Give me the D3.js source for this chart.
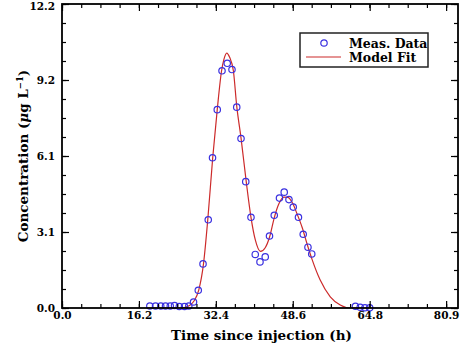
<!DOCTYPE html>
<html>
<head>
<meta charset="utf-8">
<script src="https://cdn.jsdelivr.net/npm/d3@7"></script>
<style>
  body { margin: 0; background: #fff; }
  text { font-family: 'DejaVu Serif', serif; font-weight: bold; fill: #000; }
</style>
</head>
<body>
<script>
// Measured concentrations (time in h, conc in ug/L)
const measTime = [18.5, 19.7, 20.8, 21.8, 22.8, 23.7, 24.7, 25.8, 26.7,
  27.7, 28.7, 29.7, 30.8, 31.7, 32.7, 33.7, 34.8, 35.8, 36.8, 37.7, 38.7, 39.8,
  40.7, 41.7, 42.8, 43.7, 44.7, 45.8, 46.8, 47.8, 48.7, 49.8, 50.8, 51.8, 52.6,
  61.8, 62.8, 63.8, 64.8]
const measConc = [0.08, 0.08, 0.08, 0.08, 0.08, 0.1, 0.06, 0.06, 0.08,
  0.24, 0.71, 1.77, 3.54, 6.03, 7.96, 9.52, 9.82, 9.57, 8.06, 6.8, 5.07, 3.64,
  2.15, 1.85, 2.05, 2.89, 3.72, 4.41, 4.65, 4.35, 4.05, 3.64, 2.96, 2.44, 2.17,
  0.07, 0.03, 0.01, 0.01]

// Model fit curve
const fitTime = [18, 25.1, 26.1, 27.0, 27.8, 28.8, 29.8, 30.7, 31.75, 32.7, 33.6, 34.1,
  34.7, 35.3, 36.1, 36.8, 37.7, 38.8, 39.8, 40.7, 41.8, 42.8, 43.75, 44.7,
  45.7, 46.7, 47.6, 48.6, 49.5, 50.6, 51.6, 52.7, 54.35, 56.5, 58.6, 60.7, 65]
const fitConc = [0, 0, 0.04, 0.12, 0.28, 0.72, 1.77, 3.54, 6.05, 7.97, 9.51, 9.98,
  10.23, 10.06, 9.51, 8.1, 6.83, 5.07, 3.64, 2.74, 2.27, 2.42, 2.87, 3.62,
  4.19, 4.45, 4.44, 4.19, 3.78, 3.22, 2.58, 1.93, 1.13, 0.45, 0.12, 0, 0]

const xMajor = [0, 16.2, 32.4, 48.6, 64.8, 80.9]
const xLabels = ['0.0', '16.2', '32.4', '48.6', '64.8', '80.9']
const yMajor = [0, 3.05, 6.1, 9.15, 12.2]
const yLabels = ['0.0', '3.1', '6.1', '9.2', '12.2']

const margin = { top: 4, right: 16, bottom: 46, left: 62 }
const W = 474, H = 354
const width = W - margin.left - margin.right
const height = H - margin.top - margin.bottom

const svg = d3.select('body').append('svg')
    .attr('width', W)
    .attr('height', H)
const g = svg.append('g')
    .attr('transform', `translate(${margin.left}, ${margin.top})`)

const x = d3.scaleLinear().domain([0, 83.4]).range([0, width])
const y = d3.scaleLinear().domain([0, 12.2]).range([height, 0])

const xMinor = d3.range(0, 21).map(i => i * 80.9 / 20)
const yMinor = d3.range(0, 17).map(i => i * 12.2 / 16)

g.append('defs').append('clipPath').attr('id', 'clip')
  .append('rect').attr('width', width).attr('height', height)

// Fit line
const line = d3.line()
    .x(d => x(d[0]))
    .y(d => y(d[1]))
    .curve(d3.curveMonotoneX)
g.append('path')
    .datum(fitTime.map((t, i) => [t, fitConc[i]]))
    .attr('clip-path', 'url(#clip)')
    .style('fill', 'none')
    .style('stroke', '#cc2a2a')
    .style('stroke-width', 1.2)
    .attr('d', line)

// Measured points
g.selectAll('circle.pt')
  .data(measTime.map((t, i) => [t, measConc[i]]))
  .enter().append('circle')
    .attr('class', 'pt')
    .attr('cx', d => x(d[0]))
    .attr('cy', d => y(d[1]))
    .attr('r', 3.2)
    .style('fill', 'none')
    .style('stroke', '#3a30e0')
    .style('stroke-width', 1.2)

// Axes: minor and major ticks pointing inward, all four sides
function styleAxis(sel) {
  sel.select('.domain').remove()
  sel.selectAll('line').style('stroke', '#000').style('stroke-width', 1.2)
  sel.selectAll('text').style('font-size', '10.5px')
}
const fmt = (arr, labels) => d => labels[arr.indexOf(d)]

g.append('g').attr('transform', `translate(0,${height})`)
  .call(d3.axisBottom(x).tickValues(xMinor).tickSize(-4).tickFormat(''))
  .call(styleAxis)
g.append('g').attr('transform', `translate(0,${height})`)
  .call(d3.axisBottom(x).tickValues(xMajor).tickSize(-7).tickPadding(4).tickFormat(fmt(xMajor, xLabels)))
  .call(styleAxis)
g.append('g')
  .call(d3.axisTop(x).tickValues(xMinor).tickSize(-4).tickFormat(''))
  .call(styleAxis)
g.append('g')
  .call(d3.axisTop(x).tickValues(xMajor).tickSize(-7).tickFormat(''))
  .call(styleAxis)
g.append('g')
  .call(d3.axisLeft(y).tickValues(yMinor).tickSize(-4).tickFormat(''))
  .call(styleAxis)
g.append('g')
  .call(d3.axisLeft(y).tickValues(yMajor).tickSize(-7).tickPadding(7).tickFormat(fmt(yMajor, yLabels)))
  .call(styleAxis)
  .call(a => a.selectAll('text').filter(d => d === 12.2).attr('dy', '0.55em'))
g.append('g').attr('transform', `translate(${width},0)`)
  .call(d3.axisRight(y).tickValues(yMinor).tickSize(-4).tickFormat(''))
  .call(styleAxis)
g.append('g').attr('transform', `translate(${width},0)`)
  .call(d3.axisRight(y).tickValues(yMajor).tickSize(-7).tickFormat(''))
  .call(styleAxis)

// Frame
g.append('rect')
    .attr('width', width)
    .attr('height', height)
    .style('fill', 'none')
    .style('stroke', '#000')
    .style('stroke-width', 1.8)

// Axis titles
svg.append('text')
    .attr('x', margin.left + x(42))
    .attr('y', 340)
    .attr('text-anchor', 'middle')
    .style('font-size', '13.5px')
    .text('Time since injection (h)')

const yt = svg.append('text')
    .attr('transform', `translate(28, ${margin.top + y(6.1)}) rotate(-90)`)
    .attr('text-anchor', 'middle')
    .style('font-size', '13.5px')
yt.append('tspan').text('Concentration (')
yt.append('tspan').style('font-style', 'italic').text('μ')
yt.append('tspan').text('g L')
yt.append('tspan').attr('dy', -5).style('font-size', '8.5px').text('−1')
yt.append('tspan').attr('dy', 5).text(')')

// Legend
const lg = svg.append('g').attr('transform', 'translate(300, 33)')
lg.append('rect')
    .attr('width', 128)
    .attr('height', 34)
    .style('fill', '#fff')
    .style('stroke', '#222')
    .style('stroke-width', 1.5)
lg.append('circle')
    .attr('cx', 24).attr('cy', 10).attr('r', 3.2)
    .style('fill', 'none').style('stroke', '#3a30e0').style('stroke-width', 1.2)
lg.append('line')
    .attr('x1', 6).attr('x2', 41).attr('y1', 24).attr('y2', 24)
    .style('stroke', '#cc2a2a').style('stroke-width', 1.2)
lg.append('text').attr('x', 49).attr('y', 14.5).style('font-size', '12.5px').text('Meas. Data')
lg.append('text').attr('x', 49).attr('y', 28.5).style('font-size', '12.5px').text('Model Fit')
</script>
</body>
</html>
